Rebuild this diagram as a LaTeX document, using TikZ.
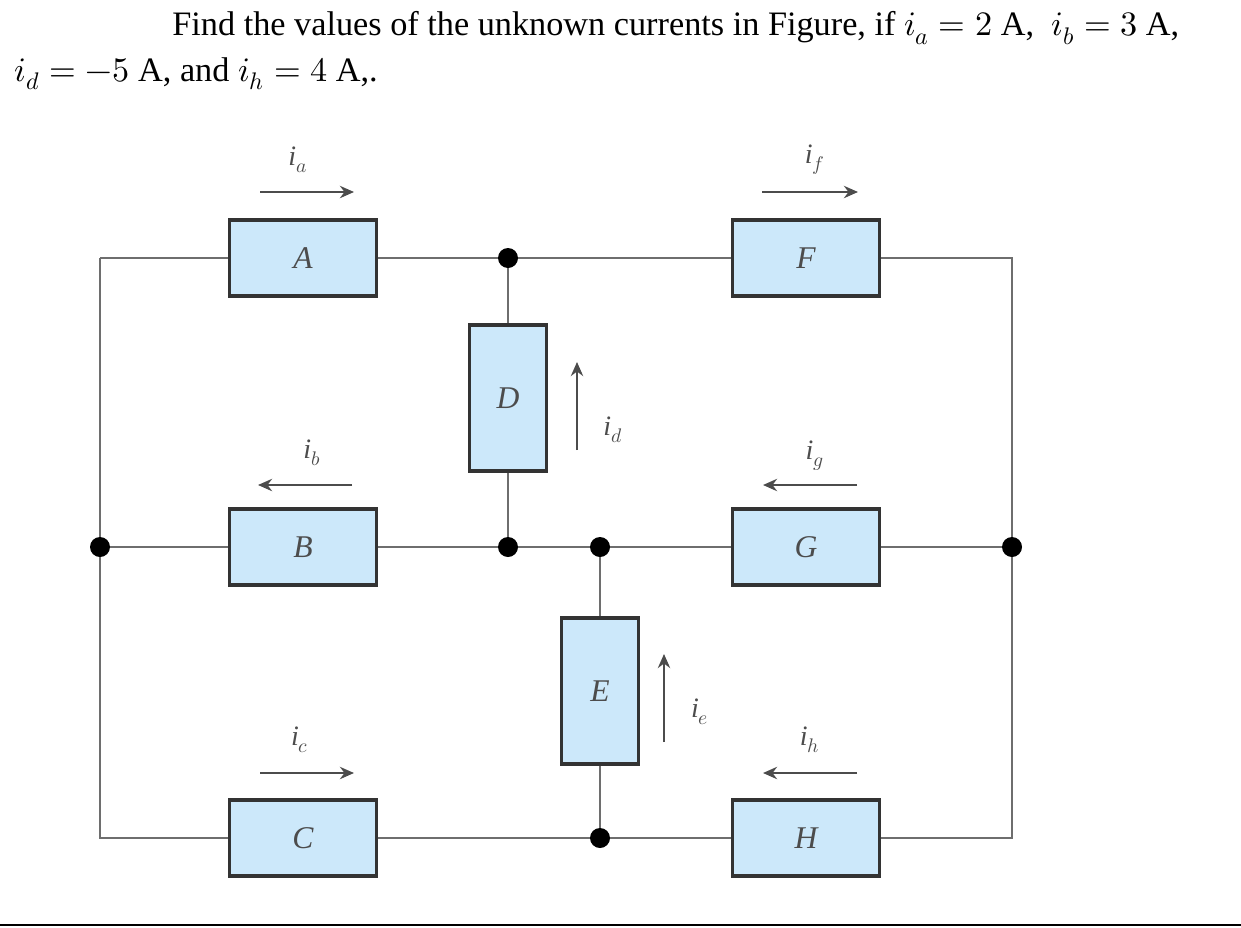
\documentclass[tikz,border=0pt]{standalone}
\usepackage{fontspec}
\usepackage{unicode-math}
\setmainfont{Liberation Serif}
\setmathfont{Latin Modern Math}
\usetikzlibrary{arrows.meta}
\definecolor{boxblue}{RGB}{204,232,250}
\definecolor{wire}{RGB}{110,110,110}
\begin{document}
\begin{tikzpicture}[x=0.02cm,y=-0.02cm,
  el/.style={draw=black!80,line width=2.2pt,fill=boxblue,inner sep=0pt,font=\fontsize{18}{20}\selectfont\itshape\color{black!70}},
  hbox/.style={el,minimum width=2.94cm,minimum height=1.52cm},
  vbox/.style={el,minimum width=1.54cm,minimum height=2.92cm},
  w/.style={draw=wire,line width=1.5pt},
  dot/.style={circle,fill=black,inner sep=0pt,minimum size=0.4cm},
  cur/.style={draw=black!70,line width=1.3pt,-{Stealth[length=8pt,width=7pt]}},
  lab/.style={font=\fontsize{16}{16}\selectfont\itshape\color{black!70}}]
\useasboundingbox (0,0) rectangle (1241,927);
\node[anchor=west,font=\fontsize{19.5}{24}\selectfont,inner sep=0pt] (t1) at (172,28) {Find the values of the unknown currents in Figure, if $i_a=2$ A,\enspace$i_b=3$ A,};
\node[anchor=west,font=\fontsize{19.5}{24}\selectfont,inner sep=0pt] (t2) at (14,74) {$i_d=-5$ A, and $i_h=4$ A,.};
\draw[line width=1pt] (0,925) -- (1241,925);
\coordinate (tl) at (100,258); \coordinate (tr) at (1012,258);
\coordinate (bl) at (100,838); \coordinate (br) at (1012,838);
\path (303,258) node[hbox] (A) {A} (806,258) node[hbox] (F) {F}
      (303,547) node[hbox] (B) {B} (806,547) node[hbox] (G) {G}
      (303,838) node[hbox] (C) {C} (806,838) node[hbox] (H) {H}
      (508,398) node[vbox] (D) {D} (600,691) node[vbox] (E) {E};
\node[dot] (nl) at (100,547) {};
\node[dot] (nr) at (1012,547) {};
\node[dot] (nt) at (508,258) {};
\node[dot] (nm1) at (508,547) {};
\node[dot] (nm2) at (600,547) {};
\node[dot] (nb) at (600,838) {};
\draw[w] (tl) -- (A.west) (A.east) -- (nt) -- (F.west) (F.east) -- (tr) -- (nr) -- (br) -- (H.east)
 (H.west) -- (nb) -- (C.east) (C.west) -- (bl) -- (nl) -- (tl)
 (nl) -- (B.west) (B.east) -- (nm1) -- (nm2) -- (G.west) (G.east) -- (nr)
 (nt) -- (D.north) (D.south) -- (nm1) (nm2) -- (E.north) (E.south) -- (nb);
\coordinate (a1) at (260,192); \coordinate (a2) at (354,192);
\draw[cur] (a1) -- (a2); \node[lab] (la) at (298,160) {i$_a$};
\coordinate (f1) at (762,192); \coordinate (f2) at (858,192);
\draw[cur] (f1) -- (f2); \node[lab] (lf) at (815,160) {i$_f$};
\coordinate (b1) at (352,485); \coordinate (b2) at (258,485);
\draw[cur] (b1) -- (b2); \node[lab] (lb) at (312,453) {i$_b$};
\coordinate (g1) at (857,485); \coordinate (g2) at (763,485);
\draw[cur] (g1) -- (g2); \node[lab] (lg) at (815,456) {i$_g$};
\coordinate (c1) at (260,773); \coordinate (c2) at (354,773);
\draw[cur] (c1) -- (c2); \node[lab] (lc) at (300,740) {i$_c$};
\coordinate (h1) at (857,773); \coordinate (h2) at (763,773);
\draw[cur] (h1) -- (h2); \node[lab] (lh) at (810,740) {i$_h$};
\coordinate (d1) at (577,450); \coordinate (d2) at (577,362);
\draw[cur] (d1) -- (d2); \node[lab] (ld) at (613,430) {i$_d$};
\coordinate (e1) at (664,742); \coordinate (e2) at (664,654);
\draw[cur] (e1) -- (e2); \node[lab] (le) at (700,712) {i$_e$};
\end{tikzpicture}
\end{document}
